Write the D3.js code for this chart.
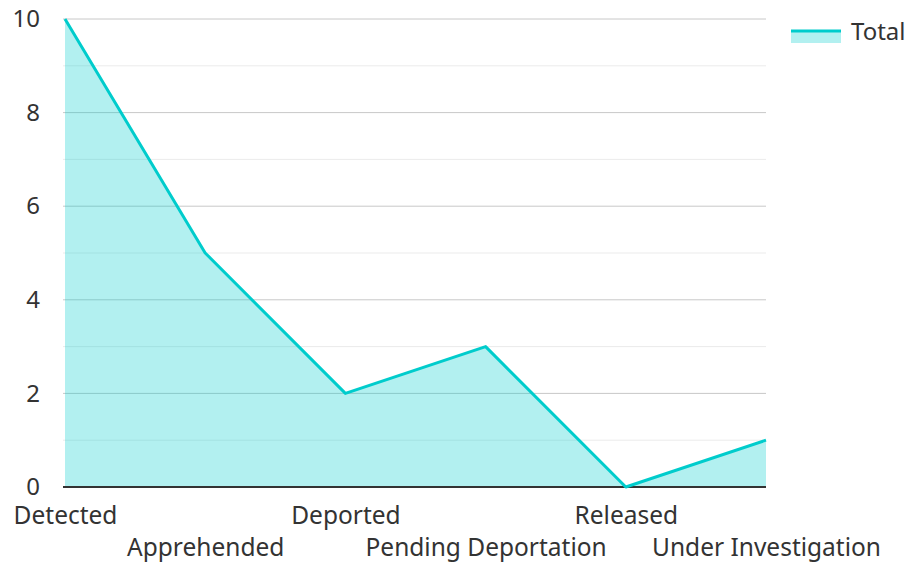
<!DOCTYPE html>
<meta charset="utf-8">
<style>
    body { margin: 0; background: #fff; }
    text { font-family: "Noto Sans", sans-serif; fill: #333; }
    .grid line { stroke: #ebebeb; stroke-width: 1; }
    .grid line.major { stroke: #c8c8c8; }
    .axis--y path, .axis--y line { display: none; }
    .axis--x path, .axis--x line { display: none; }
</style>

<svg width="907" height="562"></svg>

<script src="https://cdn.jsdelivr.net/npm/d3@7"></script>
<script>

    // DATA
    var categories = ["Detected", "Apprehended", "Deported", "Pending Deportation", "Released", "Under Investigation"];
    var totals = [10, 5, 2, 3, 0, 1];
    var yTicks = [0, 2, 4, 6, 8, 10];
    var seriesName = "Total";

    // SETUP
    var svg = d3.select("svg"),
        margin = { top: 19, right: 141, bottom: 75, left: 65 },
        width = 907 - margin.left - margin.right,
        height = 562 - margin.top - margin.bottom,
        color = "#00cccc";

    var x = d3.scalePoint().domain(categories).range([0, width]);
    var y = d3.scaleLinear().domain([0, 10]).range([height, 0]);

    var g = svg.append("g")
        .attr("transform", "translate(" + margin.left + "," + margin.top + ")");

    // grid lines, one per unit, darker on labelled ticks
    g.append("g").attr("class", "grid")
        .selectAll("line")
        .data(d3.range(1, 11))
        .enter().append("line")
        .attr("class", function (d) { return yTicks.indexOf(d) >= 0 ? "major" : null; })
        .attr("x1", -2)
        .attr("x2", width)
        .attr("y1", function (d) { return y(d); })
        .attr("y2", function (d) { return y(d); });

    var data = categories.map(function (c, i) { return { cat: c, v: totals[i] }; });

    g.append("path")
        .datum(data)
        .attr("fill", color)
        .attr("fill-opacity", 0.3)
        .attr("d", d3.area()
            .x(function (d) { return x(d.cat); })
            .y0(height)
            .y1(function (d) { return y(d.v); }));

    // baseline
    g.append("line")
        .attr("x1", -2).attr("x2", width)
        .attr("y1", height).attr("y2", height)
        .attr("stroke", "#333").attr("stroke-width", 2);

    g.append("path")
        .datum(data)
        .attr("fill", "none")
        .attr("stroke", color)
        .attr("stroke-width", 3)
        .attr("stroke-linejoin", "round")
        .attr("d", d3.line()
            .x(function (d) { return x(d.cat); })
            .y(function (d) { return y(d.v); }));

    // y axis
    g.append("g").attr("class", "axis axis--y")
        .call(d3.axisLeft(y).tickValues(yTicks).tickSize(0).tickPadding(25))
        .selectAll("text")
        .style("font-size", "24px")
        .attr("fill", "#333");

    // x axis, staggered labels
    g.append("g").attr("class", "axis axis--x")
        .attr("transform", "translate(0," + height + ")")
        .call(d3.axisBottom(x).tickSize(0))
        .selectAll("text")
        .style("font-size", "24.5px")
        .attr("fill", "#333")
        .attr("dy", 0)
        .attr("y", function (d, i) { return i % 2 ? 69 : 37; });

    // legend
    var lg = svg.append("g").attr("transform", "translate(791,31)");
    lg.append("rect").attr("x", 0).attr("y", 0).attr("width", 50).attr("height", 12)
        .attr("fill", color).attr("fill-opacity", 0.3);
    lg.append("line").attr("x1", 0).attr("x2", 50).attr("y1", 0).attr("y2", 0)
        .attr("stroke", color).attr("stroke-width", 3);
    lg.append("text").attr("x", 60).attr("y", 9)
        .style("font-size", "24px").text(seriesName);

</script>
